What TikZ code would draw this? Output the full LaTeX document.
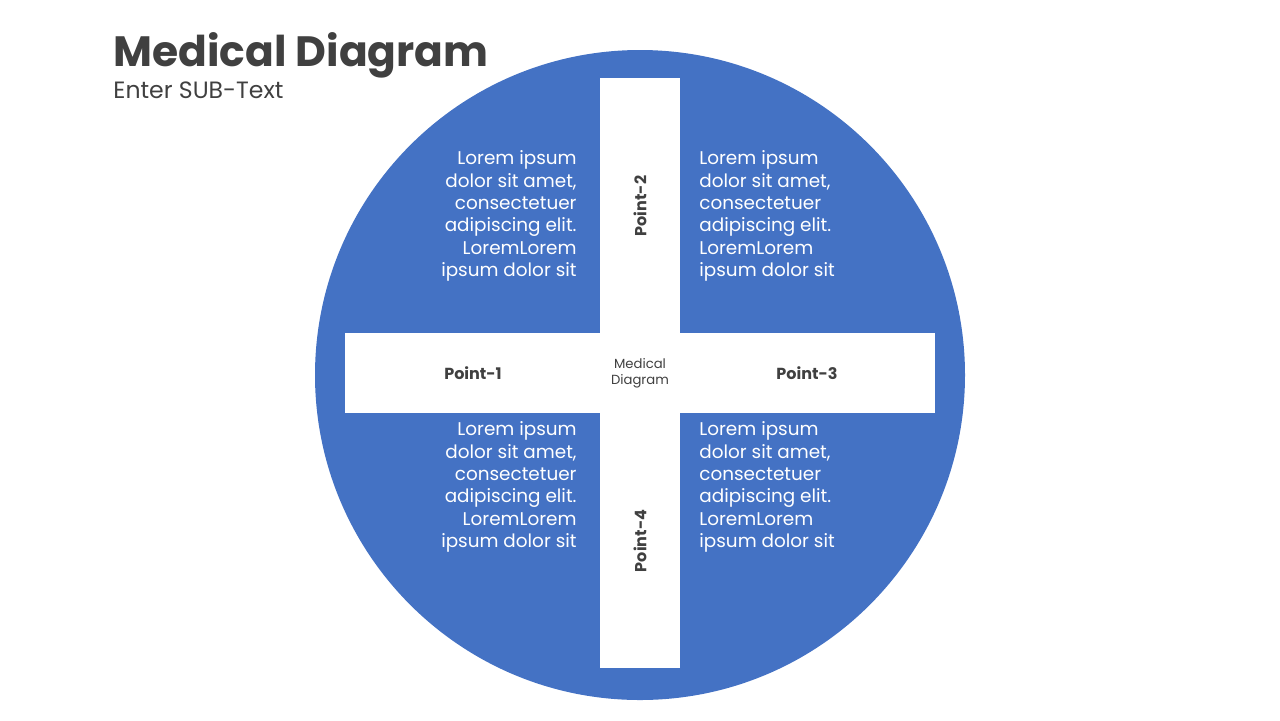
\documentclass[tikz,border=0pt]{standalone}
\usepackage{fontspec}
\setmainfont{Poppins}
\usetikzlibrary{positioning}
\definecolor{medblue}{HTML}{4472C4}
\definecolor{darktext}{HTML}{404040}

\begin{document}
\begin{tikzpicture}[
  x=0.5pt, y=-0.5pt,
  bar/.style={rectangle, fill=white, inner sep=0pt},
  point/.style={font=\bfseries\fontsize{8}{9.6}\selectfont, text=darktext},
  body/.style={font=\fontsize{9.2}{11.15}\selectfont, text=white, inner sep=0pt}
]
\useasboundingbox (0,0) rectangle (1280,720);

% title
\node[anchor=base west, inner sep=0pt, text=darktext, font=\bfseries\fontsize{21.2}{25}\selectfont] (title) at (113,66) {Medical Diagram};
\node[anchor=base west, inner sep=0pt, text=darktext, font=\fontsize{11.8}{14}\selectfont] (subtitle) at (113,98) {Enter SUB-Text};

% circle and cross
\node[circle, fill=medblue, minimum size=325pt, inner sep=0pt] (disc) at (640,375) {};
\node[bar, minimum width=40pt, minimum height=295pt] (vbar) at (640,373) {};
\node[bar, minimum width=295pt, minimum height=40pt] (hbar) at (640,373) {};

% labels
\node[text=darktext, align=center, font=\fontsize{6.6}{8}\selectfont] (centre) at (640,373) {Medical\\Diagram};
\node[point] (p1) at (473,373) {Point-1};
\node[point, rotate=90] (p2) at (640,206) {Point-2};
\node[point] (p3) at (807,373) {Point-3};
\node[point, rotate=90] (p4) at (640,541) {Point-4};

% texts
\node[body, align=right, anchor=east] (t1) at (577,216) {Lorem ipsum\\dolor sit amet,\\consectetuer\\adipiscing elit.\\LoremLorem\\ipsum dolor sit};
\node[body, align=left, anchor=west] (t2) at (699,216) {Lorem ipsum\\dolor sit amet,\\consectetuer\\adipiscing elit.\\LoremLorem\\ipsum dolor sit};
\node[body, align=right, anchor=east] (t3) at (577,487) {Lorem ipsum\\dolor sit amet,\\consectetuer\\adipiscing elit.\\LoremLorem\\ipsum dolor sit};
\node[body, align=left, anchor=west] (t4) at (699,487) {Lorem ipsum\\dolor sit amet,\\consectetuer\\adipiscing elit.\\LoremLorem\\ipsum dolor sit};
\end{tikzpicture}
\end{document}
